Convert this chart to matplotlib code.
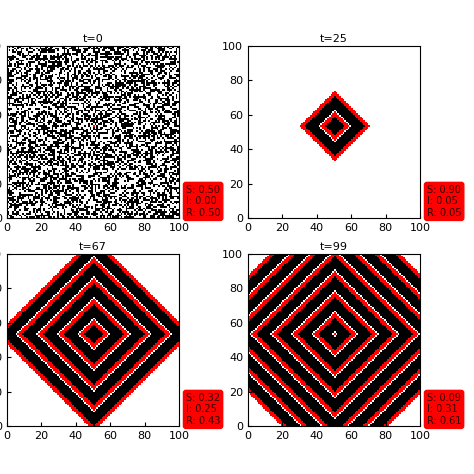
import numpy as np
import matplotlib.pyplot as plt
from matplotlib.colors import ListedColormap

# snapshot times and S/I/R fractions shown in the boxes
times = [0, 25, 67, 99]
frac_S = [0.50, 0.90, 0.32, 0.09]
frac_I = [0.00, 0.05, 0.25, 0.31]
frac_R = [0.50, 0.05, 0.43, 0.61]

N = 100
cx, cy = 50, 53
period = 12.0

# 0 = S (white), 1 = I (red), 2 = R (black)
cmap = ListedColormap(['white', 'red', 'black'])

yy, xx = np.mgrid[0:N, 0:N]
dist = np.abs(xx - cx) + np.abs(yy - cy)
rng = np.random.default_rng(3)
noise = np.where(rng.random((N, N)) < 0.5, 0, 2)


def snapshot(t):
    if t == 0:
        g = noise.copy()
        g[cy, cx] = 1
        return g
    front = 0.86 * t
    g = np.zeros((N, N), dtype=int)
    inside = dist <= front
    phase = np.mod(front - dist, period)
    g[inside & (phase < 0.8)] = 0
    g[inside & (phase >= 0.8) & (phase < 3.8)] = 1
    g[inside & (phase >= 3.8)] = 2
    return g


plt.rcParams['font.family'] = ['DejaVu Sans']
fig = plt.figure(figsize=(4.74, 4.74), dpi=100)

lefts = [7 / 474, 248 / 474]
bottoms = [1 - 218 / 474, 1 - 426 / 474]
w = 172 / 474

for k, t in enumerate(times):
    r, c = divmod(k, 2)
    ax = fig.add_axes([lefts[c], bottoms[r], w, w])
    ax.imshow(snapshot(t), cmap=cmap, vmin=0, vmax=2, origin='lower',
              extent=[0, 100, 0, 100], interpolation='nearest')
    ax.set_xlim(0, 100)
    ax.set_ylim(0, 100)
    ax.set_xticks([0, 20, 40, 60, 80, 100])
    ax.set_yticks([0, 20, 40, 60, 80, 100])
    ax.tick_params(direction='in', labelsize=8, length=3)
    ax.set_title(f't={t}', fontsize=8, pad=3)
    ax.text(1.04, 0.0, f'S: {frac_S[k]:.2f}\nI: {frac_I[k]:.2f}\nR: {frac_R[k]:.2f}',
            transform=ax.transAxes, fontsize=7, va='bottom', ha='left', color='#300000',
            bbox=dict(boxstyle='round,pad=0.25', fc='red', ec='red'))

plt.savefig('out.png', dpi=100)
